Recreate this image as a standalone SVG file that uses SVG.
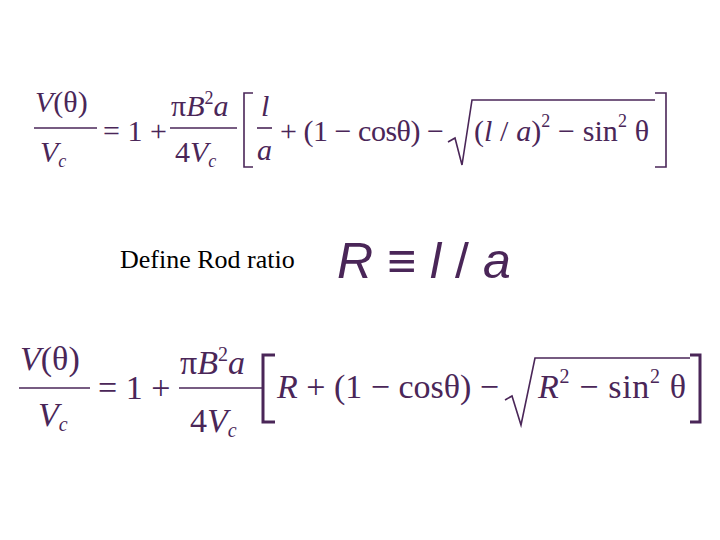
<svg xmlns="http://www.w3.org/2000/svg" width="720" height="540" viewBox="0 0 720 540">
<style>
.m{font-family:"Liberation Serif","Times New Roman",serif;fill:#4a2658}
.s{font-family:"Liberation Sans",Arial,sans-serif;fill:#4a2658}
.i{font-style:italic}
.ln{stroke:#4a2658;stroke-width:1.6;fill:none}
</style>
<rect width="720" height="540" fill="#fff"/>
<g id="eq1" class="m" font-size="30">
<text x="35" y="112"><tspan class="i">V</tspan>(θ)</text>
<line class="ln" x1="34" y1="128" x2="97" y2="128"/>
<text x="40" y="162" class="i">V<tspan font-size="18" dy="5">c</tspan></text>
<text x="103" y="141">= 1 +</text>
<text x="171" y="116">π<tspan class="i">B</tspan><tspan font-size="18" dy="-12">2</tspan><tspan class="i" dy="12">a</tspan></text>
<line class="ln" x1="170" y1="128" x2="237" y2="128"/>
<text x="175" y="162">4<tspan class="i">V</tspan><tspan class="i" font-size="18" dy="5">c</tspan></text>
<path class="ln" d="M253 93 H244 V167 H253"/>
<text x="261" y="116" class="i">l</text>
<line class="ln" x1="257" y1="128" x2="272" y2="128"/>
<text x="257" y="160" class="i">a</text>
<text x="280" y="141" textLength="164">+ (1 − cosθ) −</text>
<path class="ln" d="M448 142 L455 138 L462 165 L472 100 H655"/>
<text x="474" y="141" textLength="175" lengthAdjust="spacing">(<tspan class="i">l</tspan> / <tspan class="i">a</tspan>)<tspan font-size="18" dy="-14">2</tspan><tspan dy="14"> − sin</tspan><tspan font-size="18" dy="-14">2</tspan><tspan dy="14"> θ</tspan></text>
<path class="ln" d="M655 93 H666 V167 H655"/>
</g>
<g id="define">
<text x="120" y="268" font-family="Liberation Serif,serif" font-size="26" fill="#000">Define Rod ratio</text>
<text x="337" y="278" class="s" font-size="50"><tspan class="i">R</tspan> ≡ <tspan class="i">l</tspan> / <tspan class="i">a</tspan></text>
</g>
<g id="eq2" class="m" font-size="34">
<text x="20" y="370"><tspan class="i">V</tspan>(θ)</text>
<line class="ln" x1="19" y1="388" x2="90" y2="388"/>
<text x="38" y="426" class="i">V<tspan font-size="20" dy="5">c</tspan></text>
<text x="98" y="399">= 1 +</text>
<text x="180" y="374">π<tspan class="i">B</tspan><tspan font-size="20" dy="-13">2</tspan><tspan class="i" dy="13">a</tspan></text>
<line class="ln" x1="179" y1="388" x2="262" y2="388"/>
<text x="190" y="432">4<tspan class="i">V</tspan><tspan class="i" font-size="20" dy="5">c</tspan></text>
<path d="M275 355 H263 V422 H275" stroke="#4a2658" stroke-width="3" fill="none"/>
<text x="277" y="398" textLength="222"><tspan class="i">R</tspan> + (1 − cosθ) −</text>
<path class="ln" d="M505 400 L512 396 L521 425 L535 358 H690"/>
<text x="538" y="398" textLength="148"><tspan class="i">R</tspan><tspan font-size="20" dy="-15">2</tspan><tspan dy="15"> − sin</tspan><tspan font-size="20" dy="-15">2</tspan><tspan dy="15"> θ</tspan></text>
<path d="M690 355 H700 V422 H690" stroke="#4a2658" stroke-width="3" fill="none"/>
</g>
</svg>
